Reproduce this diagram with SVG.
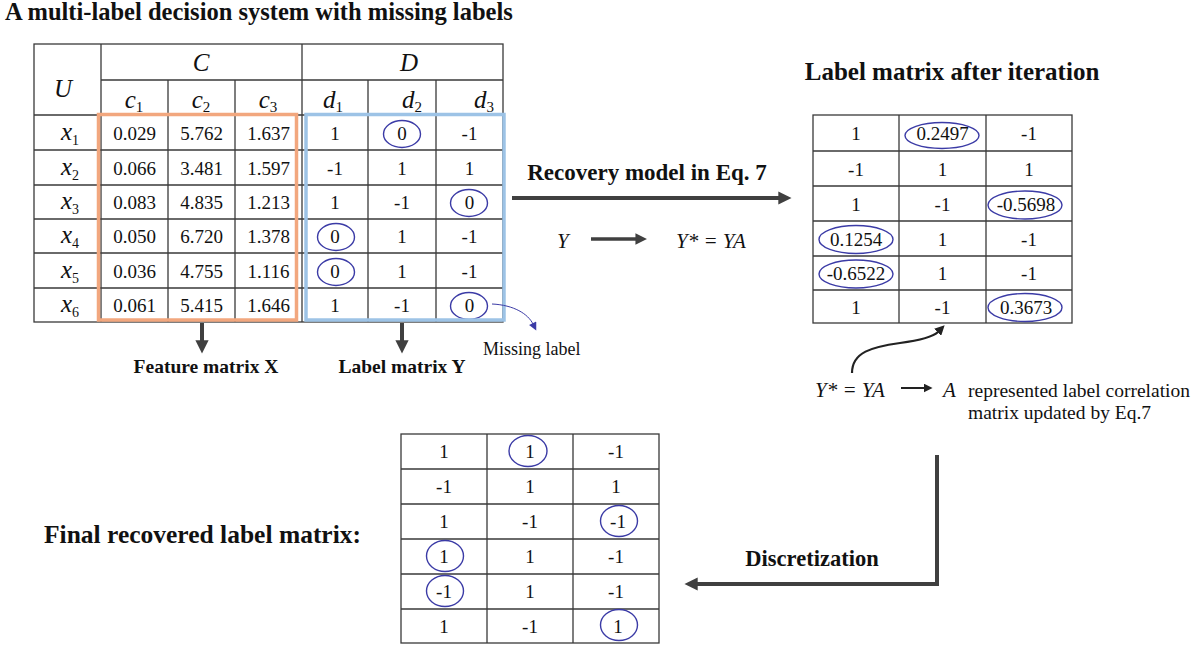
<svg xmlns="http://www.w3.org/2000/svg" width="1200" height="646" viewBox="0 0 1200 646">
<style>
.bg{fill:#fff}
.grid{stroke:#3a3a3a;stroke-width:1.3;fill:none}
.cell{font-family:"Liberation Serif",serif;font-size:19px;fill:#111;text-anchor:middle}
.it{font-family:"Liberation Serif",serif;font-style:italic;fill:#111}
.hd{font-family:"Liberation Serif",serif;font-weight:bold;fill:#111}
.txt{font-family:"Liberation Serif",serif;fill:#111}
.miss{fill:none;stroke:#3b3ba6;stroke-width:1.4}
.fat{stroke:#404040;stroke-width:4;fill:none}
</style>
<defs>
<marker id="ah" viewBox="0 0 10 10" refX="0.5" refY="5" markerWidth="3.3" markerHeight="3.6" orient="auto">
<path d="M0,0 L10,5 L0,10 Z" fill="#404040"/>
</marker>
<marker id="ahs" viewBox="0 0 10 10" refX="0.5" refY="5" markerWidth="4.5" markerHeight="4.5" orient="auto">
<path d="M0,0 L10,5 L0,10 Z" fill="#222"/>
</marker>
<marker id="ahb" viewBox="0 0 10 10" refX="1" refY="5" markerWidth="9" markerHeight="8" markerUnits="userSpaceOnUse" orient="auto">
<path d="M0,0 L10,5 L0,10 Z" fill="#3b3ba6"/>
</marker>
</defs>
<rect class="bg" x="0" y="0" width="1200" height="646"/>

<text class="hd" x="5" y="20" font-size="24.5">A multi-label decision system with missing labels</text>

<g id="input-table">
<rect class="grid" x="34" y="44" width="469" height="278"/>
<path class="grid" d="M101,80 H503 M34,115 H503 M34,150 H503 M34,185 H503 M34,219 H503 M34,253 H503 M34,288 H503 M101,44 V322 M168,80 V322 M235,80 V322 M302,44 V322 M368,80 V322 M436,80 V322"/>
<text class="it" x="63" y="97" font-size="25" text-anchor="middle">U</text>
<text class="it" x="201" y="71" font-size="25" text-anchor="middle">C</text>
<text class="it" x="409" y="71" font-size="25" text-anchor="middle">D</text>
<text class="it" x="134" y="108" font-size="25" text-anchor="middle">c<tspan dy="4" font-size="15" font-style="normal">1</tspan></text>
<text class="it" x="201" y="108" font-size="25" text-anchor="middle">c<tspan dy="4" font-size="15" font-style="normal">2</tspan></text>
<text class="it" x="268" y="108" font-size="25" text-anchor="middle">c<tspan dy="4" font-size="15" font-style="normal">3</tspan></text>
<text class="it" x="333" y="108" font-size="25" text-anchor="middle">d<tspan dy="4" font-size="15" font-style="normal">1</tspan></text>
<text class="it" x="412" y="108" font-size="25" text-anchor="middle">d<tspan dy="4" font-size="15" font-style="normal">2</tspan></text>
<text class="it" x="484" y="108" font-size="25" text-anchor="middle">d<tspan dy="4" font-size="15" font-style="normal">3</tspan></text>
<g font-size="25">
<text class="it" x="70" y="140" text-anchor="middle">x<tspan dy="5" font-size="14" font-style="normal">1</tspan></text>
<text class="it" x="70" y="175" text-anchor="middle">x<tspan dy="5" font-size="14" font-style="normal">2</tspan></text>
<text class="it" x="70" y="209" text-anchor="middle">x<tspan dy="5" font-size="14" font-style="normal">3</tspan></text>
<text class="it" x="70" y="243" text-anchor="middle">x<tspan dy="5" font-size="14" font-style="normal">4</tspan></text>
<text class="it" x="70" y="278" text-anchor="middle">x<tspan dy="5" font-size="14" font-style="normal">5</tspan></text>
<text class="it" x="70" y="312" text-anchor="middle">x<tspan dy="5" font-size="14" font-style="normal">6</tspan></text>
</g>
<g class="cell">
<text x="134.5" y="139.5">0.029</text><text x="201.5" y="139.5">5.762</text><text x="268.5" y="139.5">1.637</text>
<text x="335" y="139.5">1</text><text x="402" y="139.5">0</text><text x="469.5" y="139.5">-1</text>
<text x="134.5" y="174.5">0.066</text><text x="201.5" y="174.5">3.481</text><text x="268.5" y="174.5">1.597</text>
<text x="335" y="174.5">-1</text><text x="402" y="174.5">1</text><text x="469.5" y="174.5">1</text>
<text x="134.5" y="209">0.083</text><text x="201.5" y="209">4.835</text><text x="268.5" y="209">1.213</text>
<text x="335" y="209">1</text><text x="402" y="209">-1</text><text x="469.5" y="209">0</text>
<text x="134.5" y="243">0.050</text><text x="201.5" y="243">6.720</text><text x="268.5" y="243">1.378</text>
<text x="335" y="243">0</text><text x="402" y="243">1</text><text x="469.5" y="243">-1</text>
<text x="134.5" y="277.5">0.036</text><text x="201.5" y="277.5">4.755</text><text x="268.5" y="277.5">1.116</text>
<text x="335" y="277.5">0</text><text x="402" y="277.5">1</text><text x="469.5" y="277.5">-1</text>
<text x="134.5" y="312">0.061</text><text x="201.5" y="312">5.415</text><text x="268.5" y="312">1.646</text>
<text x="335" y="312">1</text><text x="402" y="312">-1</text><text x="469.5" y="312">0</text>
</g>
<ellipse class="miss" cx="402" cy="134" rx="18.5" ry="13.5"/>
<ellipse class="miss" cx="469" cy="203" rx="18.5" ry="13.5"/>
<ellipse class="miss" cx="336" cy="237" rx="18.5" ry="13.5"/>
<ellipse class="miss" cx="336" cy="272" rx="18.5" ry="13.5"/>
<ellipse class="miss" cx="469" cy="306" rx="18.5" ry="13.5"/>
<rect x="98.5" y="114.5" width="198" height="205.5" fill="none" stroke="#f2a77e" stroke-width="3.5"/>
<rect x="306" y="114.5" width="198" height="205.5" fill="none" stroke="#9dc3e6" stroke-width="3.5"/>
</g>

<g id="labels-bottom">
<text class="hd" x="206" y="373" font-size="19.5" text-anchor="middle">Feature matrix X</text>
<text class="hd" x="402" y="373" font-size="19.5" text-anchor="middle">Label matrix Y</text>
<text class="txt" x="483" y="355" font-size="18">Missing label</text>
</g>

<g id="iter-table">
<text class="hd" x="952" y="80" font-size="25" text-anchor="middle">Label matrix after iteration</text>
<rect class="grid" x="813" y="115" width="259" height="208"/>
<path class="grid" d="M899,115 V323 M986,115 V323 M813,151 H1072 M813,186 H1072 M813,221 H1072 M813,256 H1072 M813,290 H1072"/>
<g class="cell">
<text x="856" y="140">1</text><text x="942.5" y="140">0.2497</text><text x="1029" y="140">-1</text>
<text x="856" y="175.5">-1</text><text x="942.5" y="175.5">1</text><text x="1029" y="175.5">1</text>
<text x="856" y="210.5">1</text><text x="942.5" y="210.5">-1</text><text x="1026" y="210.5">-0.5698</text>
<text x="856" y="245.5">0.1254</text><text x="942.5" y="245.5">1</text><text x="1029" y="245.5">-1</text>
<text x="856" y="280">-0.6522</text><text x="942.5" y="280">1</text><text x="1029" y="280">-1</text>
<text x="856" y="313.5">1</text><text x="942.5" y="313.5">-1</text><text x="1026" y="313.5">0.3673</text>
</g>
<ellipse class="miss" cx="942" cy="135.5" rx="37" ry="13"/>
<ellipse class="miss" cx="1025" cy="205" rx="37" ry="14"/>
<ellipse class="miss" cx="856" cy="239.5" rx="37" ry="14"/>
<ellipse class="miss" cx="856" cy="274" rx="37" ry="14"/>
<ellipse class="miss" cx="1025" cy="307.5" rx="37" ry="14"/>
</g>

<g id="eq-annotation">
<text class="it" x="815" y="397" font-size="21">Y* = YA</text>
<text class="it" x="943" y="397" font-size="21">A</text>
<text class="txt" x="968" y="397" font-size="19.5">represented label correlation</text>
<text class="txt" x="968" y="419" font-size="19.5">matrix updated by Eq.7</text>
</g>

<g id="recovery">
<text class="hd" x="647" y="180" font-size="23" text-anchor="middle">Recovery model in Eq. 7</text>
<text class="it" x="557" y="248" font-size="21">Y</text>
<text class="it" x="676" y="248" font-size="21">Y* = YA</text>
</g>

<g id="final-table">
<text class="hd" x="44" y="543" font-size="25.5">Final recovered label matrix:</text>
<rect class="grid" x="401" y="434" width="258" height="209"/>
<path class="grid" d="M487,434 V643 M573,434 V643 M401,469 H659 M401,504 H659 M401,539 H659 M401,574 H659 M401,609 H659"/>
<g class="cell">
<text x="444" y="458">1</text><text x="530" y="458">1</text><text x="616" y="458">-1</text>
<text x="444" y="493">-1</text><text x="530" y="493">1</text><text x="616" y="493">1</text>
<text x="444" y="528">1</text><text x="530" y="528">-1</text><text x="618" y="528">-1</text>
<text x="444" y="563">1</text><text x="530" y="563">1</text><text x="616" y="563">-1</text>
<text x="444" y="598">-1</text><text x="530" y="598">1</text><text x="616" y="598">-1</text>
<text x="444" y="632.5">1</text><text x="530" y="632.5">-1</text><text x="618" y="632.5">1</text>
</g>
<ellipse class="miss" cx="528" cy="451" rx="19" ry="15.5"/>
<ellipse class="miss" cx="619" cy="521" rx="18.5" ry="15.5"/>
<ellipse class="miss" cx="445" cy="556" rx="18.5" ry="15.5"/>
<ellipse class="miss" cx="445" cy="591" rx="18.5" ry="15.5"/>
<ellipse class="miss" cx="619" cy="625" rx="18.5" ry="15.5"/>
<text class="hd" x="812" y="566" font-size="22.5" text-anchor="middle">Discretization</text>
</g>

<g id="connectors">
<line class="fat" x1="202" y1="323" x2="202" y2="341" marker-end="url(#ah)"/>
<line class="fat" x1="402" y1="323" x2="402" y2="341" marker-end="url(#ah)"/>
<path d="M492,304 C514,305 528,314 533,324" fill="none" stroke="#3b3ba6" stroke-width="1" marker-end="url(#ahb)"/>
<line class="fat" x1="512" y1="198" x2="779" y2="198" marker-end="url(#ah)"/>
<line x1="591" y1="239" x2="636" y2="239" stroke="#404040" stroke-width="3.5" marker-end="url(#ah)"/>
<line x1="901" y1="388" x2="924" y2="388" stroke="#222" stroke-width="2" marker-end="url(#ahs)"/>
<path d="M852,373 C852,352 872,347 900,343 C922,340 933,337 938,332" fill="none" stroke="#222" stroke-width="2.2" marker-end="url(#ahs)"/>
<path class="fat" d="M937,455 V584 H697" marker-end="url(#ah)"/>
</g>
</svg>
